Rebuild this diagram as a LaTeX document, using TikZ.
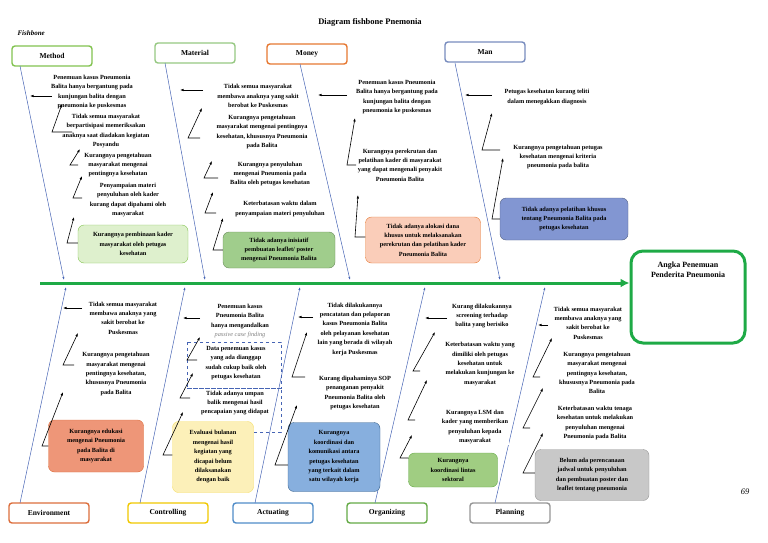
\documentclass[tikz,border=0pt]{standalone}
\usepackage{fontspec}
\setmainfont{Liberation Serif}
\usetikzlibrary{positioning,arrows.meta}
\definecolor{bonecol}{RGB}{70,100,180}
\definecolor{spinegreen}{RGB}{30,170,70}
\definecolor{methodcol}{RGB}{130,195,80}
\definecolor{matcol}{RGB}{150,200,130}
\definecolor{moneycol}{RGB}{230,120,50}
\definecolor{mancol}{RGB}{120,140,190}
\definecolor{envcol}{RGB}{220,110,60}
\definecolor{ctrlcol}{RGB}{240,200,0}
\definecolor{actcol}{RGB}{80,140,200}
\definecolor{orgcol}{RGB}{100,170,70}
\definecolor{plancol}{RGB}{150,150,150}
\definecolor{methodfill}{RGB}{222,240,205}
\definecolor{matfill}{RGB}{160,205,140}
\definecolor{moneyfill}{RGB}{250,205,185}
\definecolor{manfill}{RGB}{130,150,210}
\definecolor{envfill}{RGB}{238,150,120}
\definecolor{ctrlfill}{RGB}{252,240,185}
\definecolor{actfill}{RGB}{135,175,222}
\definecolor{orgfill}{RGB}{160,205,130}
\definecolor{planfill}{RGB}{200,200,200}

\tikzset{
  cat/.style={draw=#1, line width=1.4pt, rounded corners=3pt, minimum width=80pt, minimum height=20pt, font=\fontsize{7.5}{8}\selectfont\bfseries, fill=white},
  cause/.style={align=center, inner sep=0pt, font=\fontsize{6.3}{9.4}\selectfont\bfseries},
  sbox/.style={draw=#1col, fill=#1fill, rounded corners=6pt, align=center, font=\fontsize{6.3}{9.4}\selectfont\bfseries, inner sep=2pt},
  bone/.style={draw=bonecol, line width=0.5pt, -{Latex[length=3pt,width=2pt]}},
  arr/.style={draw=black, line width=0.6pt, -{Latex[length=3.5pt,width=2.5pt]}}
}

\begin{document}
\begin{tikzpicture}[x=1pt,y=-1pt]
\useasboundingbox (0,0) rectangle (768,543);

% title
\node[font=\fontsize{8.5}{9}\selectfont\bfseries] (title) at (370,22) {Diagram fishbone Pnemonia};
\node[font=\fontsize{7}{8}\selectfont\itshape\bfseries, anchor=west] (fb) at (14,33) {Fishbone};
\node[font=\fontsize{8.5}{9}\selectfont\itshape] (page) at (745,492) {69};

% spine and effect
\node[draw=spinegreen, line width=3pt, rounded corners=12pt, minimum width=114pt, minimum height=92pt, align=center, text depth=55pt, font=\fontsize{8}{9.5}\selectfont\bfseries] (effect) at (688,297) {Angka Penemuan\\Penderita Pneumonia};
\coordinate (tail) at (40,283);
\draw[draw=spinegreen, line width=3pt, -{Latex[length=9pt,width=9pt]}] (tail) -- (effect.west |- tail);

% categories top
\node[cat=methodcol] (method) at (52,56) {Method};
\node[cat=matcol] (material) at (195,53) {Material};
\node[cat=moneycol] (money) at (307,54) {Money};
\node[cat=mancol] (man) at (485,52) {Man};
% categories bottom
\node[cat=envcol] (env) at (49,513) {Environment};
\node[cat=ctrlcol] (ctrl) at (168,513) {Controlling};
\node[cat=actcol] (act) at (273,513) {Actuating};
\node[cat=orgcol] (org) at (387,513) {Organizing};
\node[cat=plancol] (plan) at (510,513) {Planning};

% bones
\coordinate (mB) at (64,280); \coordinate (tB) at (205,280); \coordinate (oB) at (350,280); \coordinate (nB) at (500,280);
\coordinate (eB) at (66,287); \coordinate (cB) at (185,287); \coordinate (aB) at (300,287); \coordinate (gB) at (425,287); \coordinate (pB) at (545,287);
\draw[bone] (20,66) -- (mB);
\draw[bone] (165,63) -- (tB);
\draw[bone] (300,64) -- (oB);
\draw[bone] (455,63) -- (nB);
\draw[bone] (20,503) -- (eB);
\draw[bone] (140,503) -- (cB);
\draw[bone] (255,503) -- (aB);
\draw[bone] (375,503) -- (gB);
\draw[bone] (495,503) -- (pB);

% Method
\node[cause] (m1) at (92,92) {Penemuan kasus Pneumonia\\Balita hanya bergantung pada\\kunjungan balita dengan\\pneumonia ke puskesmas};
\node[cause] (m2) at (106,131) {Tidak semua masyarakat\\berpartisipasi memeriksakan\\anaknya saat diadakan kegiatan\\Posyandu};
\node[cause] (m3) at (118,165) {Kurangnya pengetahuan\\masyarakat mengenai\\pentingnya kesehatan};
\node[cause] (m4) at (128,200) {Penyampaian materi\\penyuluhan oleh kader\\kurang dapat dipahami oleh\\masyarakat};
\node[sbox=method, minimum width=110pt, minimum height=38pt] (m5) at (133,244) {Kurangnya pembinaan kader\\masyarakat oleh petugas\\kesehatan};
\draw[arr] (52,96) -- (30,96);
\draw[arr] (72,132) -- (52,132) -- (62,104);
\draw[arr] (78,165) -- (70,165) -- (80,149);
\draw[arr] (82,198) -- (73,198) -- (82,176);
\draw[arr] (m5.west |- 0,243) -- (67,243) -- (74,217);

% Material
\node[cause] (t1) at (258,96) {Tidak semua masyarakat\\membawa anaknya yang sakit\\berobat ke Puskesmas};
\node[cause] (t2) at (262,132) {Kurangnya pengetahuan\\masyarakat mengenai pentingnya\\kesehatan, khususnya Pneumonia\\pada Balita};
\node[cause] (t3) at (270,174) {Kurangnya penyuluhan\\mengenai Pneumonia pada\\Balita oleh petugas kesehatan};
\node[cause] (t4) at (280,209) {Keterbatasan waktu dalam\\penyampaian materi penyuluhan};
\node[sbox=mat, draw=matcol!70!black, minimum width=112pt, minimum height=36pt] (t5) at (279,250) {Tidak adanya inisiatif\\pembuatan leaflet/ poster\\mengenai Pneumonia Balita};
\draw[arr] (203,90) -- (180,90);
\draw[arr] (200,138) -- (188,138) -- (202,108);
\draw[arr] (218,178) -- (204,178) -- (212,161);
\draw[arr] (216,213) -- (205,213) -- (213,192);
\draw[arr] (t5.west |- 0,250) -- (213,250) -- (223,218);

% Money
\node[cause] (o1) at (397,97) {Penemuan kasus Pneumonia\\Balita hanya bergantung pada\\kunjungan balita dengan\\pneumonia ke puskesmas};
\node[cause] (o2) at (400,165) {Kurangnya perekrutan dan\\pelatihan kader di masyarakat\\yang dapat mengenali penyakit\\Pneumonia Balita};
\node[sbox=money, minimum width=115pt, minimum height=46pt] (o5) at (423,240) {Tidak adanya alokasi dana\\khusus untuk melaksanakan\\perekrutan dan pelatihan kader\\Pneumonia Balita};
\draw[arr] (347,95) -- (318,95);
\draw[arr] (356,165) -- (347,165) -- (355,118);
\draw[arr] (o5.west |- 0,237) -- (355,237) -- (358,195);

% Man
\node[cause] (n1) at (547,97) {Petugas kesehatan kurang teliti\\dalam menegakkan diagnosis};
\node[cause] (n2) at (558,157) {Kurangnya pengetahuan petugas\\kesehatan mengenai kriteria\\pneumonia pada balita};
\node[sbox=man, draw=mancol!70!black, minimum width=128pt, minimum height=42pt] (n5) at (564,219) {Tidak adanya pelatihan khusus\\tentang Pneumonia Balita pada\\petugas kesehatan};
\draw[arr] (492,95) -- (465,95);
\draw[arr] (500,150) -- (482,150) -- (492,113);
\draw[arr] (n5.west) -- (492,219) -- (503,158);

% Environment
\node[cause] (e1) at (123,318) {Tidak semua masyarakat\\membawa anaknya yang\\sakit berobat ke\\Puskesmas};
\node[cause] (e2) at (116,374) {Kurangnya pengetahuan\\masyarakat mengenai\\pentingnya kesehatan,\\khususnya Pneumonia\\pada Balita};
\node[sbox=env, minimum width=95pt, minimum height=52pt] (e5) at (96,446) {Kurangnya edukasi\\mengenai Pneumonia\\pada Balita di\\masyarakat};
\draw[arr] (82,308) -- (63,308);
\draw[arr] (74,365) -- (63,365) -- (78,333);
\draw[arr] (e5.west) -- (42,446) -- (63,392);

% Controlling
\node[cause] (c1) at (240,321) {Penemuan kasus\\Pneumonia Balita\\hanya mengandalkan\\\textcolor{gray}{\mdseries\itshape passive case finding}};
\draw[dashed, draw=bonecol] (187,342) rectangle (281,388);
\draw[dashed, draw=bonecol] (187,388) -- (281,388) -- (281,432) -- (252,432);
\node[cause] (c2) at (236,363) {Data penemuan kasus\\yang ada dianggap\\sudah cukup baik oleh\\petugas kesehatan};
\node[cause] (c3) at (235,403) {Tidak adanya umpan\\balik mengenai hasil\\pencapaian yang didapat};
\node[sbox=ctrl, draw=ctrlcol!60, minimum width=81pt, minimum height=71pt] (c5) at (213,457) {Evaluasi bulanan\\mengenai hasil\\kegiatan yang\\dicapai belum\\dilaksanakan\\dengan baik};
\draw[arr] (200,318) -- (183,318);
\draw[arr] (197,360) -- (187,360) -- (200,337);
\draw[arr] (190,398) -- (180,398) -- (193,373);
\draw[arr] (c5.west |- 0,455) -- (163,455) -- (183,412);

% Actuating
\node[cause] (a1) at (355,329) {Tidak dilakukannya\\pencatatan dan pelaporan\\kasus Pneumonia Balita\\oleh pelayanan kesehatan\\lain yang berada di wilayah\\kerja Puskesmas};
\node[cause] (a2) at (355,393) {Kurang dipahaminya SOP\\penanganan penyakit\\Pneumonia Balita oleh\\petugas kesehatan};
\node[sbox=act, draw=actcol!70!black, minimum width=92pt, minimum height=69pt] (a5) at (334,457) {Kurangnya\\koordinasi dan\\komunikasi antara\\petugas kesehatan\\yang terkait dalam\\satu wilayah kerja};
\draw[arr] (313,317) -- (298,317);
\draw[arr] (305,377) -- (292,377) -- (307,332);
\draw[arr] (a5.west |- 0,465) -- (275,465) -- (297,405);

% Organizing
\node[cause] (g1) at (482,316) {Kurang dilakukannya\\screening terhadap\\balita yang berisiko};
\node[cause] (g2) at (480,364) {Keterbatasan waktu yang\\dimiliki oleh petugas\\kesehatan untuk\\melakukan kunjungan ke\\masyarakat};
\node[sbox=org, minimum width=89pt, minimum height=34pt] (g5) at (453,470) {Kurangnya\\koordinasi lintas\\sektoral};
\node[cause, fill=white, inner sep=1pt] (g3) at (475,427) {Kurangnya LSM dan\\kader yang memberikan\\penyuluhan kepada\\masyarakat};
\draw[arr] (447,318) -- (425,318);
\draw[arr] (420,371) -- (413,371) -- (435,332);
\draw[arr] (415,420) -- (408,420) -- (427,380);
\draw[arr] (g5.west |- 0,458) -- (400,458) -- (412,435);

% Planning
\node[cause] (p1) at (588,323) {Tidak semua masyarakat\\membawa anaknya yang\\sakit berobat ke\\Puskesmas};
\node[cause] (p2) at (597,373) {Kurangnya pengetahuan\\masyarakat mengenai\\pentingnya kesehatan,\\khususnya Pneumonia pada\\Balita};
\node[cause] (p3) at (595,423) {Keterbatasan waktu tenaga\\kesehatan untuk melakukan\\penyuluhan mengenai\\Pneumonia pada Balita};
\node[sbox=plan, minimum width=114pt, minimum height=51pt] (p5) at (592,475) {Belum ada perencanaan\\jadwal untuk penyuluhan\\dan pembuatan poster dan\\leaflet tentang pneumonia};
\draw[arr] (548,325) -- (538,325);
\draw[arr] (540,377) -- (533,377) -- (552,338);
\draw[arr] (530,428) -- (523,428) -- (543,388);
\draw[arr] (p5.west |- 0,473) -- (523,473) -- (543,433);
\end{tikzpicture}
\end{document}
